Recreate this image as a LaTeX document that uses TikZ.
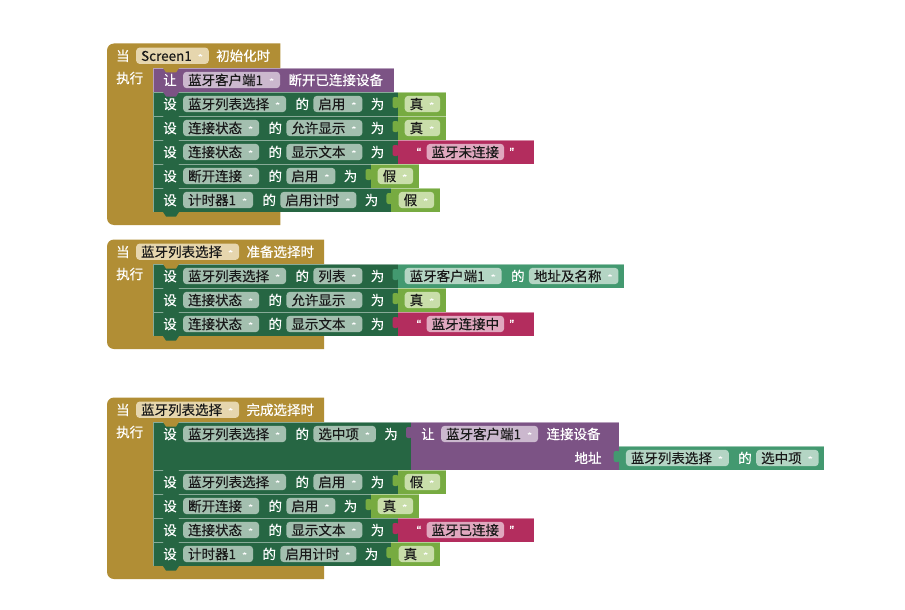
\documentclass[tikz,border=0pt]{standalone}
\usepackage{fontspec}
\setmainfont{Noto Sans CJK SC}
\newfontfamily\lblf{Noto Sans CJK SC}[FakeBold=0.45]
\newfontfamily\fldf{Noto Sans CJK SC}[FakeBold=0.2]
\newfontfamily\latf{Liberation Sans}[FakeBold=0.3]
\usetikzlibrary{positioning,backgrounds,calc}
\definecolor{evc}{HTML}{B18E35}
\definecolor{evf}{HTML}{E6D6AE}
\definecolor{puc}{HTML}{7C5385}
\definecolor{puf}{HTML}{CBB8CE}
\definecolor{stc}{HTML}{266643}
\definecolor{stf}{HTML}{A3BFAF}
\definecolor{gec}{HTML}{439970}
\definecolor{gef}{HTML}{B4D5C4}
\definecolor{boc}{HTML}{77AB41}
\definecolor{bof}{HTML}{C9DEAA}
\definecolor{txc}{HTML}{B32D5E}
\definecolor{txf}{HTML}{E0A8BF}
\tikzset{
 lbl/.style={inner sep=0pt, text=white, font=\lblf\fontsize{13.5}{15}\selectfont, text height=11.9pt, text depth=1.6pt, anchor=west},
 fldbase/.style={inner xsep=5pt, inner ysep=1.4pt, rounded corners=3.5pt, text=black!90, font=\fldf\fontsize{13.5}{15}\selectfont, text height=11.9pt, text depth=1.6pt, anchor=west},
 fld/.style={fldbase, fill=#1},
 dd/.style={fldbase, fill=#1, execute at end node={\hspace{12pt}},
   path picture={\fill[white] ($(path picture bounding box.east)+(-11.5,-1.6)$) -- ++(6,0) -- ++(-3,3.6) -- cycle;}},
 qt/.style={inner sep=0pt, text=white, font=\latf\fontsize{13.5}{15}\selectfont, text height=11.9pt, text depth=1.6pt, anchor=west},
 hl/.style={line width=0.8pt, draw=#1!55!white},
}
\newcommand\event[5]{%
 \node[lbl] (#1a) at (116,#2+12.25) {当};
 \node[dd=evf, right=6pt of #1a] (#1c) {#3};
 \node[lbl, right=7pt of #1c] (#1e) {#4};
 \node[lbl] (#1x) at (116,#2+34.5) {执行};
 \begin{scope}[on background layer]
 \path[fill=evc] let \p1=(#1e.east) in (\x1+10pt,-#5pt) [rounded corners=7pt] -- (107,#5) -- (107,#2) [sharp corners] -- (\x1+10pt,-#2pt) -- cycle;
 \end{scope}}
\newcommand\setrow[5]{%
 \node[lbl] (#1s) at (163,#2+12) {设};
 \node[dd=stf, right=6pt of #1s] (#1c) {#4};
 \node[lbl, right=9pt of #1c] (#1d) {的};
 \node[dd=stf, right=4pt of #1d] (#1p) {#5};
 \node[lbl, right=8pt of #1p] (#1w) {为};
 \coordinate (#1R) at ($(#1w.east)+(13,0)$);
 \begin{scope}[on background layer]
 \path[fill=stc] let \p1=(#1R) in (153,#2) rectangle (\x1,-#2pt-#3pt);
 \path[hl=stc] let \p1=(#1R) in (153.4,#2+#3) -- (153.4,#2+0.4) -- (\x1,-#2pt-0.4pt);
 \end{scope}}
\newcommand\vtab[3]{% colour, R, top
 \path[fill=#1, rounded corners=2pt] let \p1=(#2) in (\x1-5pt,-#3pt-5pt) rectangle (\x1+1pt,-#3pt-16pt);}
\newcommand\valblk[4]{% colour, R, right coord, top
 \path[fill=#1] let \p1=(#2), \p2=(#3) in (\x1,-#4pt) rectangle (\x2,-#4pt-24pt);
 \path[hl=#1] let \p1=(#2), \p2=(#3) in (\x1,-#4pt-0.4pt) -- (\x2,-#4pt-0.4pt);
 \vtab{#1}{#2}{#4}}
\newcommand\boolv[4]{%
 \node[dd=bof] (#1f) at ($(#2)+(7,0)$) {#4};
 \coordinate (#1E) at ($(#1f.east)+(6,0)$);
 \begin{scope}[on background layer]\valblk{boc}{#2}{#1E}{#3}\end{scope}}
\newcommand\textv[4]{%
 \node[qt] (#1q) at ($(#2)+(19,0)$) {“};
 \node[fld=txf, right=5pt of #1q] (#1f) {#4};
 \node[qt, right=5pt of #1f] (#1r) {”};
 \coordinate (#1E) at ($(#1r.east)+(20,0)$);
 \begin{scope}[on background layer]\valblk{txc}{#2}{#1E}{#3}\end{scope}}
\newcommand\getv[5]{%
 \node[dd=gef] (#1gc) at ($(#2)+(7,0)$) {#4};
 \node[lbl, right=9pt of #1gc] (#1gd) {的};
 \node[dd=gef, right=4pt of #1gd] (#1gp) {#5};
 \coordinate (#1gE) at ($(#1gp.east)+(5,0)$);
 \begin{scope}[on background layer]\valblk{gec}{#2}{#1gE}{#3}\end{scope}}
\newcommand\tabat[2]{\fill[#1] (163,#2) -- (166,#2+4.5) -- (176,#2+4.5) -- (179,#2) -- cycle;}
\begin{document}
\begin{tikzpicture}[x=1pt,y=-1pt]
\useasboundingbox (0,0) rectangle (905,610);
\begin{scope}[on background layer]\fill[white] (0,0) rectangle (905,610);\end{scope}
% ---------- block 1
\event{A}{43.5}{Screen1}{初始化时}{225}
\node[lbl] (as) at (163,80) {让};
\node[dd=puf, right=6pt of as] (ac) {蓝牙客户端1};
\node[lbl, right=8pt of ac] (am) {断开已连接设备};
\coordinate (aR) at ($(am.east)+(11,0)$);
\begin{scope}[on background layer]
\path[fill=puc] let \p1=(aR) in (153,68) rectangle (\x1,-92pt);
\path[hl=puc] let \p1=(aR) in (153.4,92) -- (153.4,68.4) -- (\x1,-68.4pt);
\end{scope}
\setrow{b}{92}{24}{蓝牙列表选择}{启用} \boolv{b}{bR}{92}{真}
\setrow{c}{116}{24}{连接状态}{允许显示} \boolv{c}{cR}{116}{真}
\setrow{d}{140}{24}{连接状态}{显示文本} \textv{d}{dR}{140}{蓝牙未连接}
\setrow{e}{164}{24}{断开连接}{启用} \boolv{e}{eR}{164}{假}
\setrow{f}{188}{24}{计时器1}{启用计时} \boolv{f}{fR}{188}{假}
% ---------- block 2
\event{B}{239.5}{蓝牙列表选择}{准备选择时}{349}
\setrow{g}{264}{24}{蓝牙列表选择}{列表} \getv{g}{gR}{264}{蓝牙客户端1}{地址及名称}
\setrow{h}{288}{24}{连接状态}{允许显示} \boolv{h}{hR}{288}{真}
\setrow{i}{312}{24}{连接状态}{显示文本} \textv{i}{iR}{312}{蓝牙连接中}
% ---------- block 3
\event{C}{397.5}{蓝牙列表选择}{完成选择时}{579}
\setrow{j}{422}{48}{蓝牙列表选择}{选中项}
\node[lbl] (jl) at ($(jR)+(10,0)$) {让};
\node[dd=puf, right=6pt of jl] (jk) {蓝牙客户端1};
\node[lbl, right=8pt of jk] (jm) {连接设备};
\coordinate (jP) at ($(jm.east)+(18,24)$);
\node[lbl, anchor=east] (ja) at ($(jP)+(-17,0)$) {地址};
\begin{scope}[on background layer]
\path[fill=puc] let \p1=(jR), \p2=(jP) in (\x1,-422pt) rectangle (\x2,-470pt);
\path[hl=puc] let \p1=(jR), \p2=(jP) in (\x1,-422.4pt) -- (\x2,-422.4pt);
\vtab{puc}{jR}{422}
\end{scope}
\getv{x}{jP}{446}{蓝牙列表选择}{选中项}
\setrow{k}{470}{24}{蓝牙列表选择}{启用} \boolv{k}{kR}{470}{假}
\setrow{l}{494}{24}{断开连接}{启用} \boolv{l}{lR}{494}{真}
\setrow{m}{518}{24}{连接状态}{显示文本} \textv{m}{mR}{518}{蓝牙已连接}
\setrow{n}{542}{24}{计时器1}{启用计时} \boolv{n}{nR}{542}{真}
% ---------- connection tabs
\begin{scope}[on background layer]
\tabat{evc}{68} \tabat{puc}{92}
\tabat{stc}{116} \tabat{stc}{140} \tabat{stc}{164} \tabat{stc}{188} \tabat{stc}{212}
\tabat{evc}{264} \tabat{stc}{288} \tabat{stc}{312} \tabat{stc}{336}
\tabat{evc}{422} \tabat{stc}{470} \tabat{stc}{494} \tabat{stc}{518} \tabat{stc}{542} \tabat{stc}{566}
\end{scope}
\end{tikzpicture}
\end{document}
